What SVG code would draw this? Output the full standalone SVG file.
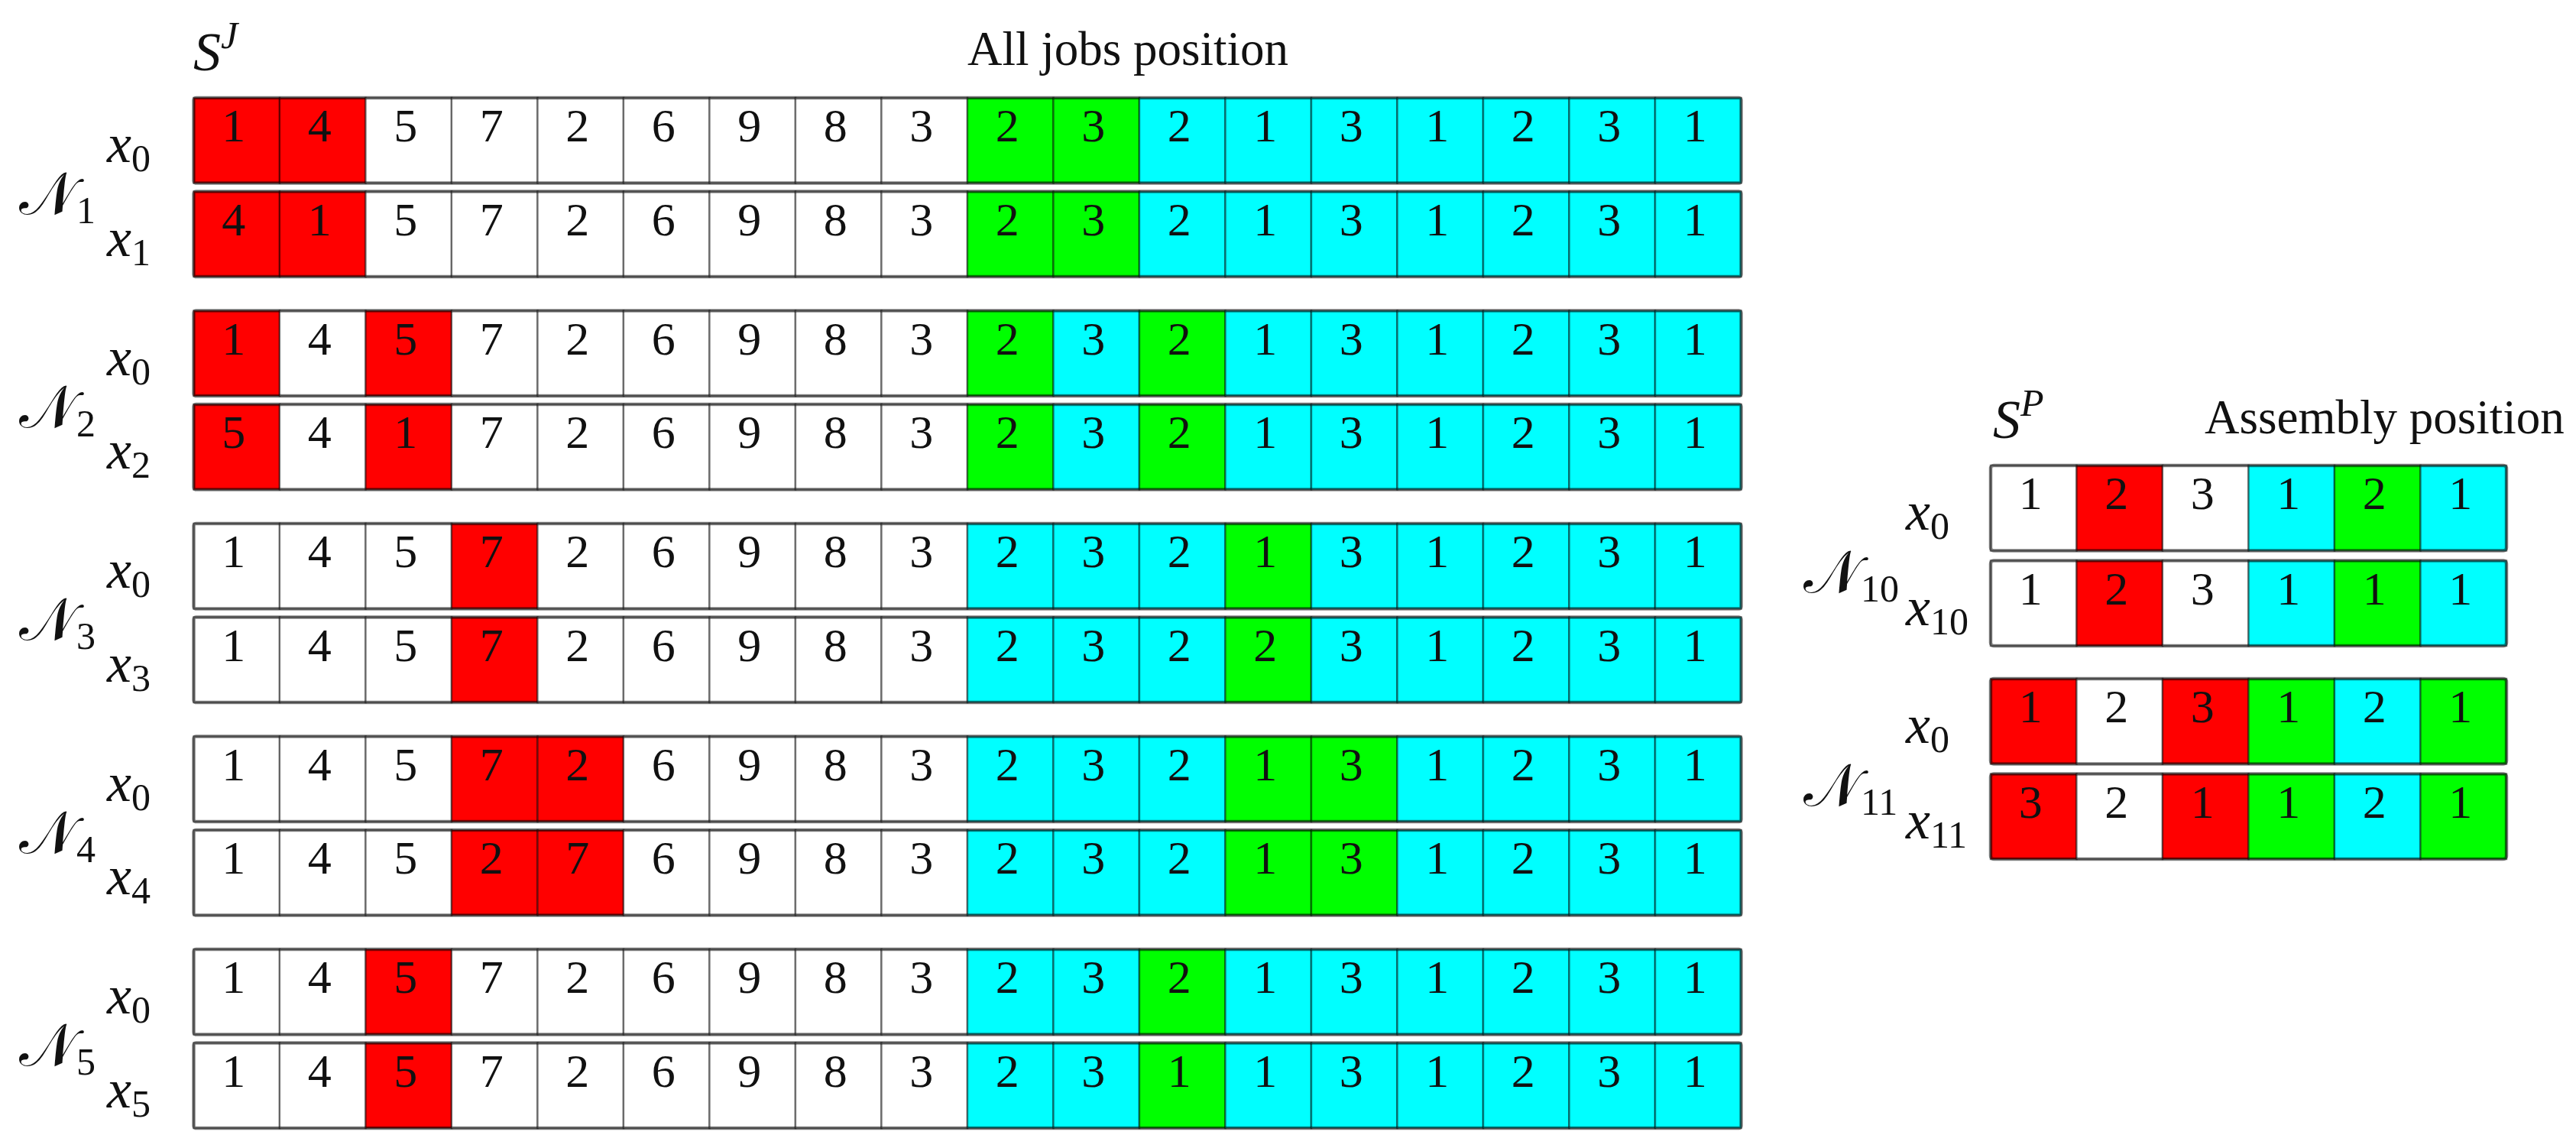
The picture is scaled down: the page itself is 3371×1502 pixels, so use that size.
<svg xmlns="http://www.w3.org/2000/svg" xmlns:xlink="http://www.w3.org/1999/xlink" width="3371" height="1502" viewBox="0 0 3371 1502">
<style>
.cell{stroke:#000;stroke-opacity:.45;stroke-width:2.5}
.cw{fill:#ffffff}.cr{fill:#ff0000}.cg{fill:#00ff00}.cc{fill:#00ffff}
.frame{fill:none;stroke:#000;stroke-opacity:.45;stroke-width:4.5}
.d{font-family:"Liberation Serif","Times New Roman",serif;font-size:62px;text-anchor:middle;fill:#111}
.lbl{font-family:"Liberation Serif","Times New Roman",serif;font-style:italic;font-size:72px;fill:#111}
.cal{font-family:"DejaVu Serif","DejaVu Sans","Liberation Serif",serif;font-style:normal;font-size:78px;fill:#111}
.sub{font-family:"Liberation Serif","Times New Roman",serif;font-style:normal;font-size:50px}
.ttl{font-family:"Liberation Serif","Times New Roman",serif;font-size:63px;fill:#111}
</style>
<defs>
<rect id="W" class="cell cw" width="112.5" height="111.5"/>
<rect id="R" class="cell cr" width="112.5" height="111.5"/>
<rect id="G" class="cell cg" width="112.5" height="111.5"/>
<rect id="C" class="cell cc" width="112.5" height="111.5"/>
</defs>

<g id="titles">
<text class="lbl" x="253" y="92" font-size="70">S<tspan font-size="50" dy="-29">J</tspan></text>
<text class="ttl" x="1266" y="85">All jobs position</text>
<text class="lbl" x="2608" y="573" font-size="70">S<tspan font-size="50" dy="-29">P</tspan></text>
<text class="ttl" x="2885" y="567" font-size="62">Assembly position</text>
</g>

<g id="labels">
<text class="cal" x="25" y="280">𝒩<tspan class="sub" dy="12">1</tspan></text>
<text class="cal" x="25" y="558.5">𝒩<tspan class="sub" dy="12">2</tspan></text>
<text class="cal" x="25" y="837">𝒩<tspan class="sub" dy="12">3</tspan></text>
<text class="cal" x="25" y="1115.5">𝒩<tspan class="sub" dy="12">4</tspan></text>
<text class="cal" x="25" y="1394">𝒩<tspan class="sub" dy="12">5</tspan></text>
<text class="lbl" x="140" y="212">x<tspan class="sub" dy="12">0</tspan></text>
<text class="lbl" x="140" y="334.5">x<tspan class="sub" dy="12">1</tspan></text>
<text class="lbl" x="140" y="490.5">x<tspan class="sub" dy="12">0</tspan></text>
<text class="lbl" x="140" y="613">x<tspan class="sub" dy="12">2</tspan></text>
<text class="lbl" x="140" y="769">x<tspan class="sub" dy="12">0</tspan></text>
<text class="lbl" x="140" y="891.5">x<tspan class="sub" dy="12">3</tspan></text>
<text class="lbl" x="140" y="1047.5">x<tspan class="sub" dy="12">0</tspan></text>
<text class="lbl" x="140" y="1170">x<tspan class="sub" dy="12">4</tspan></text>
<text class="lbl" x="140" y="1326">x<tspan class="sub" dy="12">0</tspan></text>
<text class="lbl" x="140" y="1448.5">x<tspan class="sub" dy="12">5</tspan></text>
<text class="cal" x="2360" y="775">𝒩<tspan class="sub" dy="12" font-size="46">10</tspan></text>
<text class="cal" x="2360" y="1054">𝒩<tspan class="sub" dy="12" font-size="46">11</tspan></text>
<text class="lbl" x="2494" y="693">x<tspan class="sub" dy="12">0</tspan></text>
<text class="lbl" x="2494" y="817.5">x<tspan class="sub" dy="12">10</tspan></text>
<text class="lbl" x="2494" y="972">x<tspan class="sub" dy="12">0</tspan></text>
<text class="lbl" x="2494" y="1096.5">x<tspan class="sub" dy="12">11</tspan></text>
</g>

<g id="N1-x0" transform="translate(253.5,128)">
<use href="#R" x="0"/><use href="#R" x="112.5"/><use href="#W" x="225"/><use href="#W" x="337.5"/><use href="#W" x="450"/><use href="#W" x="562.5"/><use href="#W" x="675"/><use href="#W" x="787.5"/><use href="#W" x="900"/><use href="#G" x="1012.5"/><use href="#G" x="1125"/><use href="#C" x="1237.5"/><use href="#C" x="1350"/><use href="#C" x="1462.5"/><use href="#C" x="1575"/><use href="#C" x="1687.5"/><use href="#C" x="1800"/><use href="#C" x="1912.5"/>
<rect class="frame" width="2025" height="111.5" rx="3"/>
<text class="d" x="52.25" y="57">1</text><text class="d" x="164.75" y="57">4</text><text class="d" x="277.25" y="57">5</text><text class="d" x="389.75" y="57">7</text><text class="d" x="502.25" y="57">2</text><text class="d" x="614.75" y="57">6</text><text class="d" x="727.25" y="57">9</text><text class="d" x="839.75" y="57">8</text><text class="d" x="952.25" y="57">3</text><text class="d" x="1064.75" y="57">2</text><text class="d" x="1177.25" y="57">3</text><text class="d" x="1289.75" y="57">2</text><text class="d" x="1402.25" y="57">1</text><text class="d" x="1514.75" y="57">3</text><text class="d" x="1627.25" y="57">1</text><text class="d" x="1739.75" y="57">2</text><text class="d" x="1852.25" y="57">3</text><text class="d" x="1964.75" y="57">1</text>
</g>
<g id="N1-x1" transform="translate(253.5,250.5)">
<use href="#R" x="0"/><use href="#R" x="112.5"/><use href="#W" x="225"/><use href="#W" x="337.5"/><use href="#W" x="450"/><use href="#W" x="562.5"/><use href="#W" x="675"/><use href="#W" x="787.5"/><use href="#W" x="900"/><use href="#G" x="1012.5"/><use href="#G" x="1125"/><use href="#C" x="1237.5"/><use href="#C" x="1350"/><use href="#C" x="1462.5"/><use href="#C" x="1575"/><use href="#C" x="1687.5"/><use href="#C" x="1800"/><use href="#C" x="1912.5"/>
<rect class="frame" width="2025" height="111.5" rx="3"/>
<text class="d" x="52.25" y="57">4</text><text class="d" x="164.75" y="57">1</text><text class="d" x="277.25" y="57">5</text><text class="d" x="389.75" y="57">7</text><text class="d" x="502.25" y="57">2</text><text class="d" x="614.75" y="57">6</text><text class="d" x="727.25" y="57">9</text><text class="d" x="839.75" y="57">8</text><text class="d" x="952.25" y="57">3</text><text class="d" x="1064.75" y="57">2</text><text class="d" x="1177.25" y="57">3</text><text class="d" x="1289.75" y="57">2</text><text class="d" x="1402.25" y="57">1</text><text class="d" x="1514.75" y="57">3</text><text class="d" x="1627.25" y="57">1</text><text class="d" x="1739.75" y="57">2</text><text class="d" x="1852.25" y="57">3</text><text class="d" x="1964.75" y="57">1</text>
</g>

<g id="N2-x0" transform="translate(253.5,406.5)">
<use href="#R" x="0"/><use href="#W" x="112.5"/><use href="#R" x="225"/><use href="#W" x="337.5"/><use href="#W" x="450"/><use href="#W" x="562.5"/><use href="#W" x="675"/><use href="#W" x="787.5"/><use href="#W" x="900"/><use href="#G" x="1012.5"/><use href="#C" x="1125"/><use href="#G" x="1237.5"/><use href="#C" x="1350"/><use href="#C" x="1462.5"/><use href="#C" x="1575"/><use href="#C" x="1687.5"/><use href="#C" x="1800"/><use href="#C" x="1912.5"/>
<rect class="frame" width="2025" height="111.5" rx="3"/>
<text class="d" x="52.25" y="57">1</text><text class="d" x="164.75" y="57">4</text><text class="d" x="277.25" y="57">5</text><text class="d" x="389.75" y="57">7</text><text class="d" x="502.25" y="57">2</text><text class="d" x="614.75" y="57">6</text><text class="d" x="727.25" y="57">9</text><text class="d" x="839.75" y="57">8</text><text class="d" x="952.25" y="57">3</text><text class="d" x="1064.75" y="57">2</text><text class="d" x="1177.25" y="57">3</text><text class="d" x="1289.75" y="57">2</text><text class="d" x="1402.25" y="57">1</text><text class="d" x="1514.75" y="57">3</text><text class="d" x="1627.25" y="57">1</text><text class="d" x="1739.75" y="57">2</text><text class="d" x="1852.25" y="57">3</text><text class="d" x="1964.75" y="57">1</text>
</g>
<g id="N2-x2" transform="translate(253.5,529)">
<use href="#R" x="0"/><use href="#W" x="112.5"/><use href="#R" x="225"/><use href="#W" x="337.5"/><use href="#W" x="450"/><use href="#W" x="562.5"/><use href="#W" x="675"/><use href="#W" x="787.5"/><use href="#W" x="900"/><use href="#G" x="1012.5"/><use href="#C" x="1125"/><use href="#G" x="1237.5"/><use href="#C" x="1350"/><use href="#C" x="1462.5"/><use href="#C" x="1575"/><use href="#C" x="1687.5"/><use href="#C" x="1800"/><use href="#C" x="1912.5"/>
<rect class="frame" width="2025" height="111.5" rx="3"/>
<text class="d" x="52.25" y="57">5</text><text class="d" x="164.75" y="57">4</text><text class="d" x="277.25" y="57">1</text><text class="d" x="389.75" y="57">7</text><text class="d" x="502.25" y="57">2</text><text class="d" x="614.75" y="57">6</text><text class="d" x="727.25" y="57">9</text><text class="d" x="839.75" y="57">8</text><text class="d" x="952.25" y="57">3</text><text class="d" x="1064.75" y="57">2</text><text class="d" x="1177.25" y="57">3</text><text class="d" x="1289.75" y="57">2</text><text class="d" x="1402.25" y="57">1</text><text class="d" x="1514.75" y="57">3</text><text class="d" x="1627.25" y="57">1</text><text class="d" x="1739.75" y="57">2</text><text class="d" x="1852.25" y="57">3</text><text class="d" x="1964.75" y="57">1</text>
</g>

<g id="N3-x0" transform="translate(253.5,685)">
<use href="#W" x="0"/><use href="#W" x="112.5"/><use href="#W" x="225"/><use href="#R" x="337.5"/><use href="#W" x="450"/><use href="#W" x="562.5"/><use href="#W" x="675"/><use href="#W" x="787.5"/><use href="#W" x="900"/><use href="#C" x="1012.5"/><use href="#C" x="1125"/><use href="#C" x="1237.5"/><use href="#G" x="1350"/><use href="#C" x="1462.5"/><use href="#C" x="1575"/><use href="#C" x="1687.5"/><use href="#C" x="1800"/><use href="#C" x="1912.5"/>
<rect class="frame" width="2025" height="111.5" rx="3"/>
<text class="d" x="52.25" y="57">1</text><text class="d" x="164.75" y="57">4</text><text class="d" x="277.25" y="57">5</text><text class="d" x="389.75" y="57">7</text><text class="d" x="502.25" y="57">2</text><text class="d" x="614.75" y="57">6</text><text class="d" x="727.25" y="57">9</text><text class="d" x="839.75" y="57">8</text><text class="d" x="952.25" y="57">3</text><text class="d" x="1064.75" y="57">2</text><text class="d" x="1177.25" y="57">3</text><text class="d" x="1289.75" y="57">2</text><text class="d" x="1402.25" y="57">1</text><text class="d" x="1514.75" y="57">3</text><text class="d" x="1627.25" y="57">1</text><text class="d" x="1739.75" y="57">2</text><text class="d" x="1852.25" y="57">3</text><text class="d" x="1964.75" y="57">1</text>
</g>
<g id="N3-x3" transform="translate(253.5,807.5)">
<use href="#W" x="0"/><use href="#W" x="112.5"/><use href="#W" x="225"/><use href="#R" x="337.5"/><use href="#W" x="450"/><use href="#W" x="562.5"/><use href="#W" x="675"/><use href="#W" x="787.5"/><use href="#W" x="900"/><use href="#C" x="1012.5"/><use href="#C" x="1125"/><use href="#C" x="1237.5"/><use href="#G" x="1350"/><use href="#C" x="1462.5"/><use href="#C" x="1575"/><use href="#C" x="1687.5"/><use href="#C" x="1800"/><use href="#C" x="1912.5"/>
<rect class="frame" width="2025" height="111.5" rx="3"/>
<text class="d" x="52.25" y="57">1</text><text class="d" x="164.75" y="57">4</text><text class="d" x="277.25" y="57">5</text><text class="d" x="389.75" y="57">7</text><text class="d" x="502.25" y="57">2</text><text class="d" x="614.75" y="57">6</text><text class="d" x="727.25" y="57">9</text><text class="d" x="839.75" y="57">8</text><text class="d" x="952.25" y="57">3</text><text class="d" x="1064.75" y="57">2</text><text class="d" x="1177.25" y="57">3</text><text class="d" x="1289.75" y="57">2</text><text class="d" x="1402.25" y="57">2</text><text class="d" x="1514.75" y="57">3</text><text class="d" x="1627.25" y="57">1</text><text class="d" x="1739.75" y="57">2</text><text class="d" x="1852.25" y="57">3</text><text class="d" x="1964.75" y="57">1</text>
</g>

<g id="N4-x0" transform="translate(253.5,963.5)">
<use href="#W" x="0"/><use href="#W" x="112.5"/><use href="#W" x="225"/><use href="#R" x="337.5"/><use href="#R" x="450"/><use href="#W" x="562.5"/><use href="#W" x="675"/><use href="#W" x="787.5"/><use href="#W" x="900"/><use href="#C" x="1012.5"/><use href="#C" x="1125"/><use href="#C" x="1237.5"/><use href="#G" x="1350"/><use href="#G" x="1462.5"/><use href="#C" x="1575"/><use href="#C" x="1687.5"/><use href="#C" x="1800"/><use href="#C" x="1912.5"/>
<rect class="frame" width="2025" height="111.5" rx="3"/>
<text class="d" x="52.25" y="57">1</text><text class="d" x="164.75" y="57">4</text><text class="d" x="277.25" y="57">5</text><text class="d" x="389.75" y="57">7</text><text class="d" x="502.25" y="57">2</text><text class="d" x="614.75" y="57">6</text><text class="d" x="727.25" y="57">9</text><text class="d" x="839.75" y="57">8</text><text class="d" x="952.25" y="57">3</text><text class="d" x="1064.75" y="57">2</text><text class="d" x="1177.25" y="57">3</text><text class="d" x="1289.75" y="57">2</text><text class="d" x="1402.25" y="57">1</text><text class="d" x="1514.75" y="57">3</text><text class="d" x="1627.25" y="57">1</text><text class="d" x="1739.75" y="57">2</text><text class="d" x="1852.25" y="57">3</text><text class="d" x="1964.75" y="57">1</text>
</g>
<g id="N4-x4" transform="translate(253.5,1086)">
<use href="#W" x="0"/><use href="#W" x="112.5"/><use href="#W" x="225"/><use href="#R" x="337.5"/><use href="#R" x="450"/><use href="#W" x="562.5"/><use href="#W" x="675"/><use href="#W" x="787.5"/><use href="#W" x="900"/><use href="#C" x="1012.5"/><use href="#C" x="1125"/><use href="#C" x="1237.5"/><use href="#G" x="1350"/><use href="#G" x="1462.5"/><use href="#C" x="1575"/><use href="#C" x="1687.5"/><use href="#C" x="1800"/><use href="#C" x="1912.5"/>
<rect class="frame" width="2025" height="111.5" rx="3"/>
<text class="d" x="52.25" y="57">1</text><text class="d" x="164.75" y="57">4</text><text class="d" x="277.25" y="57">5</text><text class="d" x="389.75" y="57">2</text><text class="d" x="502.25" y="57">7</text><text class="d" x="614.75" y="57">6</text><text class="d" x="727.25" y="57">9</text><text class="d" x="839.75" y="57">8</text><text class="d" x="952.25" y="57">3</text><text class="d" x="1064.75" y="57">2</text><text class="d" x="1177.25" y="57">3</text><text class="d" x="1289.75" y="57">2</text><text class="d" x="1402.25" y="57">1</text><text class="d" x="1514.75" y="57">3</text><text class="d" x="1627.25" y="57">1</text><text class="d" x="1739.75" y="57">2</text><text class="d" x="1852.25" y="57">3</text><text class="d" x="1964.75" y="57">1</text>
</g>

<g id="N5-x0" transform="translate(253.5,1242)">
<use href="#W" x="0"/><use href="#W" x="112.5"/><use href="#R" x="225"/><use href="#W" x="337.5"/><use href="#W" x="450"/><use href="#W" x="562.5"/><use href="#W" x="675"/><use href="#W" x="787.5"/><use href="#W" x="900"/><use href="#C" x="1012.5"/><use href="#C" x="1125"/><use href="#G" x="1237.5"/><use href="#C" x="1350"/><use href="#C" x="1462.5"/><use href="#C" x="1575"/><use href="#C" x="1687.5"/><use href="#C" x="1800"/><use href="#C" x="1912.5"/>
<rect class="frame" width="2025" height="111.5" rx="3"/>
<text class="d" x="52.25" y="57">1</text><text class="d" x="164.75" y="57">4</text><text class="d" x="277.25" y="57">5</text><text class="d" x="389.75" y="57">7</text><text class="d" x="502.25" y="57">2</text><text class="d" x="614.75" y="57">6</text><text class="d" x="727.25" y="57">9</text><text class="d" x="839.75" y="57">8</text><text class="d" x="952.25" y="57">3</text><text class="d" x="1064.75" y="57">2</text><text class="d" x="1177.25" y="57">3</text><text class="d" x="1289.75" y="57">2</text><text class="d" x="1402.25" y="57">1</text><text class="d" x="1514.75" y="57">3</text><text class="d" x="1627.25" y="57">1</text><text class="d" x="1739.75" y="57">2</text><text class="d" x="1852.25" y="57">3</text><text class="d" x="1964.75" y="57">1</text>
</g>
<g id="N5-x5" transform="translate(253.5,1364.5)">
<use href="#W" x="0"/><use href="#W" x="112.5"/><use href="#R" x="225"/><use href="#W" x="337.5"/><use href="#W" x="450"/><use href="#W" x="562.5"/><use href="#W" x="675"/><use href="#W" x="787.5"/><use href="#W" x="900"/><use href="#C" x="1012.5"/><use href="#C" x="1125"/><use href="#G" x="1237.5"/><use href="#C" x="1350"/><use href="#C" x="1462.5"/><use href="#C" x="1575"/><use href="#C" x="1687.5"/><use href="#C" x="1800"/><use href="#C" x="1912.5"/>
<rect class="frame" width="2025" height="111.5" rx="3"/>
<text class="d" x="52.25" y="57">1</text><text class="d" x="164.75" y="57">4</text><text class="d" x="277.25" y="57">5</text><text class="d" x="389.75" y="57">7</text><text class="d" x="502.25" y="57">2</text><text class="d" x="614.75" y="57">6</text><text class="d" x="727.25" y="57">9</text><text class="d" x="839.75" y="57">8</text><text class="d" x="952.25" y="57">3</text><text class="d" x="1064.75" y="57">2</text><text class="d" x="1177.25" y="57">3</text><text class="d" x="1289.75" y="57">1</text><text class="d" x="1402.25" y="57">1</text><text class="d" x="1514.75" y="57">3</text><text class="d" x="1627.25" y="57">1</text><text class="d" x="1739.75" y="57">2</text><text class="d" x="1852.25" y="57">3</text><text class="d" x="1964.75" y="57">1</text>
</g>

<g id="N10-x0" transform="translate(2605,609)">
<use href="#W" x="0"/><use href="#R" x="112.5"/><use href="#W" x="225"/><use href="#C" x="337.5"/><use href="#G" x="450"/><use href="#C" x="562.5"/>
<rect class="frame" width="675" height="111.5" rx="4"/>
<text class="d" x="52.25" y="57">1</text><text class="d" x="164.75" y="57">2</text><text class="d" x="277.25" y="57">3</text><text class="d" x="389.75" y="57">1</text><text class="d" x="502.25" y="57">2</text><text class="d" x="614.75" y="57">1</text>
</g>
<g id="N10-x10" transform="translate(2605,733.5)">
<use href="#W" x="0"/><use href="#R" x="112.5"/><use href="#W" x="225"/><use href="#C" x="337.5"/><use href="#G" x="450"/><use href="#C" x="562.5"/>
<rect class="frame" width="675" height="111.5" rx="4"/>
<text class="d" x="52.25" y="57">1</text><text class="d" x="164.75" y="57">2</text><text class="d" x="277.25" y="57">3</text><text class="d" x="389.75" y="57">1</text><text class="d" x="502.25" y="57">1</text><text class="d" x="614.75" y="57">1</text>
</g>
<g id="N11-x0" transform="translate(2605,888)">
<use href="#R" x="0"/><use href="#W" x="112.5"/><use href="#R" x="225"/><use href="#G" x="337.5"/><use href="#C" x="450"/><use href="#G" x="562.5"/>
<rect class="frame" width="675" height="111.5" rx="4"/>
<text class="d" x="52.25" y="57">1</text><text class="d" x="164.75" y="57">2</text><text class="d" x="277.25" y="57">3</text><text class="d" x="389.75" y="57">1</text><text class="d" x="502.25" y="57">2</text><text class="d" x="614.75" y="57">1</text>
</g>
<g id="N11-x11" transform="translate(2605,1012.5)">
<use href="#R" x="0"/><use href="#W" x="112.5"/><use href="#R" x="225"/><use href="#G" x="337.5"/><use href="#C" x="450"/><use href="#G" x="562.5"/>
<rect class="frame" width="675" height="111.5" rx="4"/>
<text class="d" x="52.25" y="57">3</text><text class="d" x="164.75" y="57">2</text><text class="d" x="277.25" y="57">1</text><text class="d" x="389.75" y="57">1</text><text class="d" x="502.25" y="57">2</text><text class="d" x="614.75" y="57">1</text>
</g>
</svg>
